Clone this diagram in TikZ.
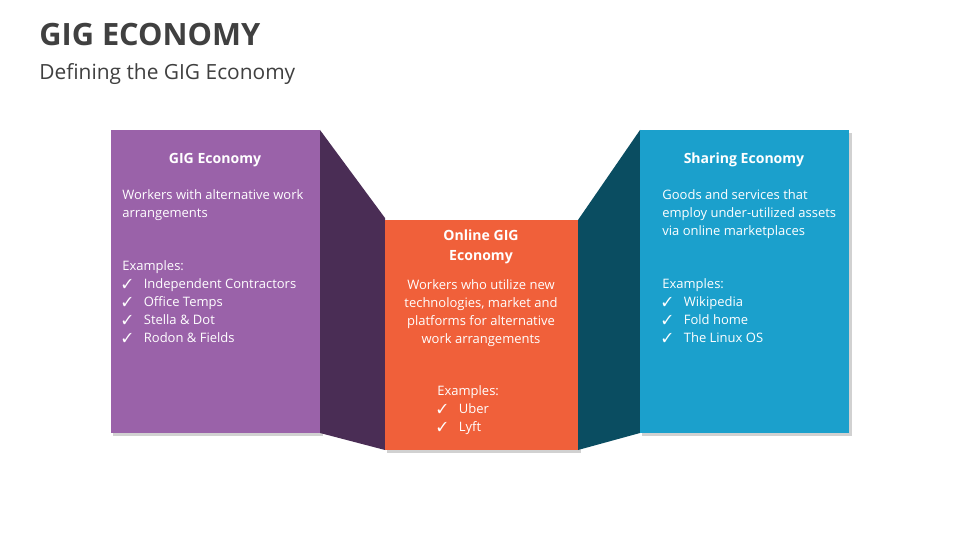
\documentclass[tikz,border=0pt]{standalone}
\usepackage{fontspec}
\setmainfont{Open Sans}
\usepackage{pifont}
\begin{document}
\begin{tikzpicture}[x=0.02cm,y=-0.02cm,
  txt/.style={text=white,font=\fontsize{7.4}{10.3}\selectfont,align=left,anchor=north west,inner sep=0pt},
  hd/.style={text=white,font=\fontsize{8}{11}\selectfont\bfseries,align=center,inner sep=0pt},
  shadow/.style={fill=black!18}]
\definecolor{purp}{HTML}{9A62A9}
\definecolor{dpurp}{HTML}{4A2D55}
\definecolor{oran}{HTML}{F0603A}
\definecolor{blu}{HTML}{1BA0CC}
\definecolor{dteal}{HTML}{0A4D61}
\definecolor{ttl}{HTML}{404040}
\useasboundingbox (0,0) rectangle (960,540);
\fill[white] (0,0) rectangle (960,540);
\node[anchor=west,inner sep=0pt,text=ttl,font=\fontsize{17.5}{20}\selectfont\bfseries] (title) at (39,35) {GIG ECONOMY};
\node[anchor=west,inner sep=0pt,text=ttl,font=\fontsize{11.9}{13}\selectfont] (sub) at (39,74) {Defining the GIG Economy};
% shadows
\fill[shadow] (113,133) rectangle (323,436);
\fill[shadow] (387,223) rectangle (581,453);
\fill[shadow] (642,133) rectangle (852,436);
% folds
\fill[dpurp] (320,130) -- (385,218) -- (385,450) -- (320,433) -- cycle;
\fill[dteal] (578,220) -- (640,130) -- (640,433) -- (578,450) -- cycle;
% boxes
\fill[purp] (111,130) rectangle (320,433);
\fill[oran] (385,220) rectangle (578,450);
\fill[blu] (640,130) rectangle (849,433);
\newcommand{\ck}{\ding{51}\hspace{0.9em}}
\node[hd] (h1) at (215,160) {GIG Economy};
\node[txt] (t1) at (122,189) {Workers with alternative work\\arrangements\\[2.7em]Examples:\\\ck Independent Contractors\\\ck Office Temps\\\ck Stella \& Dot\\\ck Rodon \& Fields};
\node[hd] (h2) at (481,247) {Online GIG\\Economy};
\node[txt,anchor=north,align=center] (t2) at (481,279) {Workers who utilize new\\technologies, market and\\platforms for alternative\\work arrangements};
\node[txt] (t3) at (437,385) {Examples:\\\ck Uber\\\ck Lyft};
\node[hd] (h3) at (744,160) {Sharing Economy};
\node[txt] (t4) at (662,189) {Goods and services that\\employ under-utilized assets\\via online marketplaces\\[2.7em]Examples:\\\ck Wikipedia\\\ck Fold home\\\ck The Linux OS};
\end{tikzpicture}
\end{document}
